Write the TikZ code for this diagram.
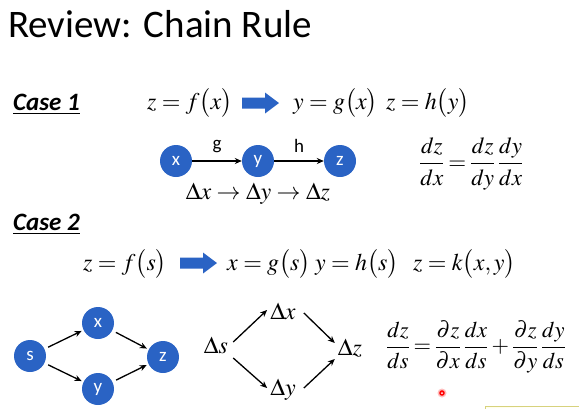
\documentclass[tikz,border=0pt]{standalone}
\usepackage{amsmath}
\usepackage{mathptmx}
\usepackage[no-math]{fontspec}
\setmainfont{Carlito}
\usetikzlibrary{arrows.meta,calc}
\definecolor{nodeblue}{HTML}{2A63C4}
\newcommand{\tightm}{\thickmuskip=4mu\relax}
\newcommand{\tighterm}{\thickmuskip=3mu\relax}
\tikzset{
  vnode/.style={circle, fill=nodeblue, minimum size=32pt, inner sep=0pt, text=white, font=\fontsize{19}{19}\selectfont},
  conn/.style={-{Stealth[length=7pt,width=6pt]}, line width=1.3pt},
  eq/.style={anchor=base west, inner sep=0pt, font=\fontsize{24}{24}\selectfont},
  frac/.style={anchor=west, inner sep=0pt, font=\fontsize{23}{23}\selectfont},
  delta/.style={inner sep=0pt, font=\fontsize{24}{24}\selectfont},
  caselabel/.style={anchor=base west, inner sep=0pt, font=\fontsize{25}{25}\selectfont\bfseries\itshape},
  lbl/.style={inner sep=0pt, font=\fontsize{19}{19}\selectfont}
}
\newcommand{\blockarrow}[2]{% left x, center y
  \fill[nodeblue] (#1,#2-5.5) -- (#1+23,#2-5.5) -- (#1+23,#2-10.5) -- (#1+37,#2) -- (#1+23,#2+10.5) -- (#1+23,#2+5.5) -- (#1,#2+5.5) -- cycle;}
\begin{document}
\begin{tikzpicture}[x=1pt,y=-1pt]
\useasboundingbox (0,0) rectangle (579,408);
% title
\node[anchor=base west, inner sep=0pt, font=\fontsize{39}{39}\selectfont] (title) at (8,37) {Review: Chain Rule};
% Case 1
\node[caselabel] (case1) at (13,110) {\underline{Case 1}};
\node[eq] (e1a) at (147,109) {$\tightm z=f\bigl(x\bigr)$};
\blockarrow{242}{103}
\node[eq] (e1b) at (293,109) {$\tightm y=g\bigl(x\bigr)$};
\node[eq] (e1c) at (386,109) {$\tightm z=h\bigl(y\bigr)$};
% case 1 graph
\node[vnode] (x1) at (176,161) {x};
\node[vnode] (y1) at (258,161) {y};
\node[vnode] (z1) at (340,161) {z};
\draw[conn] (x1) -- node[lbl, above=8pt] (g1) {g} (y1);
\draw[conn] (y1) -- node[lbl, above=8pt] (h1) {h} (z1);
\node[inner sep=0pt, font=\fontsize{24}{24}\selectfont] (chain1) at (258,194) {$\Delta x\rightarrow\Delta y\rightarrow\Delta z$};
\node[frac] (f1) at (419,164) {$\tighterm\dfrac{dz}{dx}=\dfrac{dz}{dy}\,\dfrac{dy}{dx}$};
% Case 2
\node[caselabel] (case2) at (13,230) {\underline{Case 2}};
\node[eq] (e2a) at (83,270) {$\tightm z=f\bigl(s\bigr)$};
\blockarrow{180}{263}
\node[eq] (e2b) at (227,270) {$\tightm x=g\bigl(s\bigr)$};
\node[eq] (e2c) at (315,270) {$\tightm y=h\bigl(s\bigr)$};
\node[eq] (e2d) at (413,270) {$\tightm z=k\bigl(x,y\bigr)$};
% case 2 graph
\node[vnode] (s2) at (30,356) {s};
\node[vnode] (x2) at (98,323) {x};
\node[vnode] (y2) at (98,389) {y};
\node[vnode] (z2) at (163,357) {z};
\draw[conn, shorten <=4pt, shorten >=2pt] (s2) -- (x2);
\draw[conn, shorten <=4pt, shorten >=2pt] (x2) -- (z2);
\draw[conn, shorten <=4pt, shorten >=2pt] (s2) -- (y2);
\draw[conn, shorten <=4pt, shorten >=2pt] (y2) -- (z2);
% delta diamond
\node[delta] (ds) at (216,345) {$\Delta s$};
\node[delta] (dx) at (283,311) {$\Delta x$};
\node[delta] (dy) at (283,390) {$\Delta y$};
\node[delta] (dz) at (350,348) {$\Delta z$};
\draw[conn] ($(ds.east)+(5,-3)$) -- ($(dx.west)+(-3,-1)$);
\draw[conn] ($(ds.east)+(5,13)$) -- ($(dy.west)+(-3,-2)$);
\draw[conn] ($(dx.east)+(8,2)$) -- ($(dz.west)+(-3,-5)$);
\draw[conn] ($(dy.east)+(8,-2)$) -- ($(dz.west)+(-3,11)$);
\node[frac, font=\fontsize{22.5}{22.5}\selectfont] (f2) at (386,347) {$\tighterm\dfrac{dz}{ds}=\dfrac{\partial z}{\partial x}\,\dfrac{dx}{ds}+\dfrac{\partial z}{\partial y}\,\dfrac{dy}{ds}$};
% laser pointer dot and box edge
\fill[red!25] (442,393) circle (4.5pt);
\fill[red] (442,393) circle (2.8pt);
\fill[white] (442,393) circle (1pt);
\draw[yellow!70!black!60, line width=0.8pt, fill=yellow!8] (485,408.5) -- (485,406) -- (580,406);
\end{tikzpicture}
\end{document}
